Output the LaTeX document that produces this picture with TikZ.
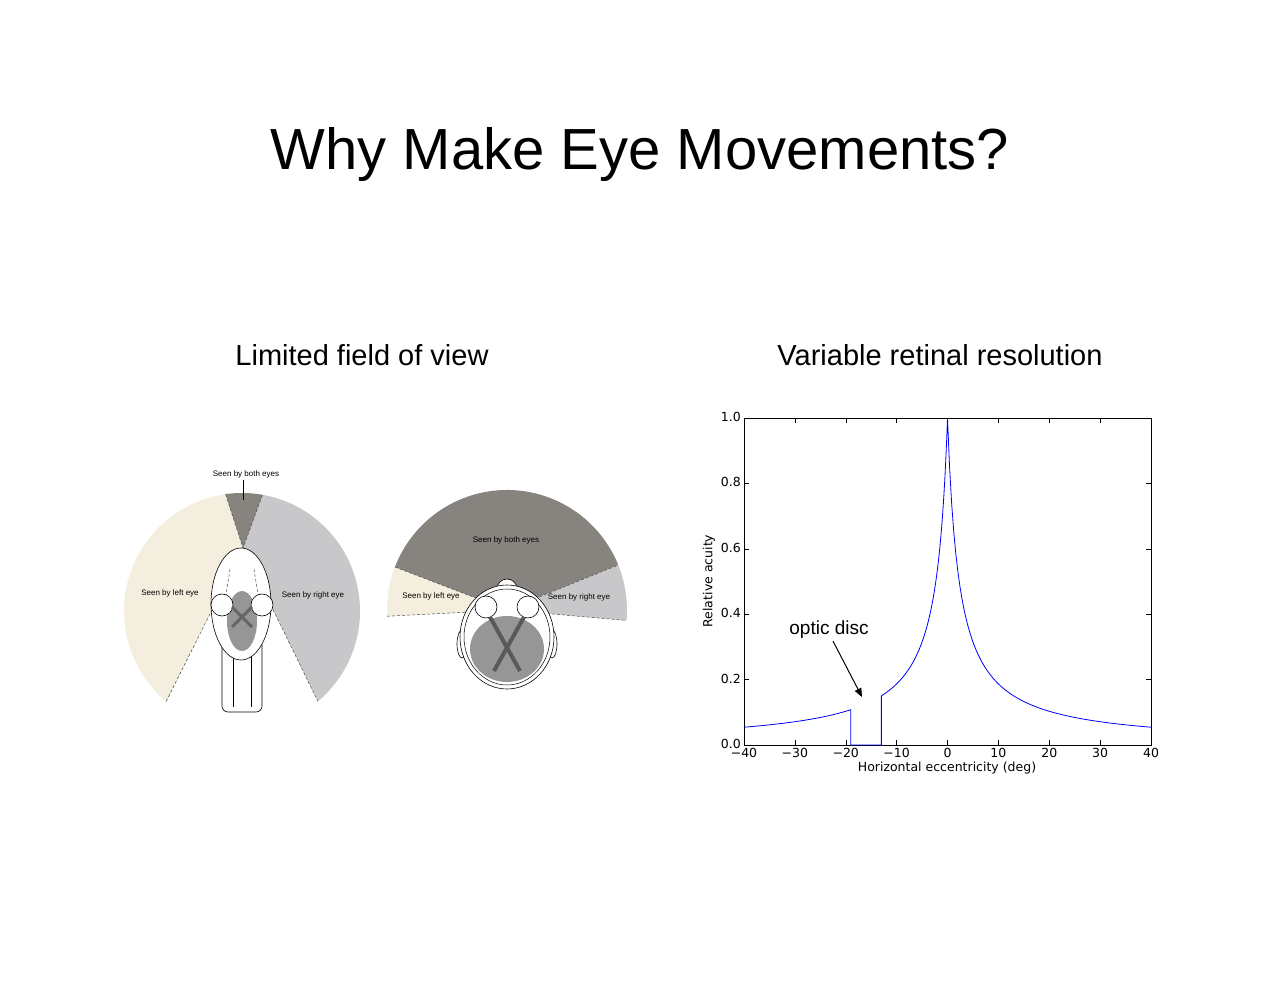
\documentclass[tikz,border=0pt]{standalone}
\usepackage{fontspec}
\setmainfont{Liberation Sans}
\newfontfamily\dejavu{DejaVu Sans}
\usetikzlibrary{arrows, calc}
\definecolor{leftfield}{RGB}{244,238,222}
\definecolor{rightfield}{RGB}{200,200,202}
\definecolor{bothfield}{RGB}{135,131,126}
\definecolor{brain}{RGB}{150,150,150}
\tikzstyle{every node} = [inner sep=0pt]
\tikzstyle{seen} = [font=\fontsize{8}{9}\selectfont]
\tikzstyle{tick} = [font=\dejavu\fontsize{12.5}{14}\selectfont]
\tikzstyle{border} = [densely dashed, black!70, line width=0.5pt]

\begin{document}
\begin{tikzpicture}[x=1pt, y=1pt]
        \useasboundingbox (0,0) rectangle (1280,989);

        \node (title) at (640,834) {\fontsize{58}{66}\selectfont Why Make Eye Movements?};
        \node (limited) at (362,634) {\fontsize{29}{33}\selectfont Limited field of view};
        \node (variable) at (940,634) {\fontsize{29}{33}\selectfont Variable retinal resolution};

        % lateral-eyed animal
        \coordinate (c1) at (242,378);
        \coordinate (a1) at (243,441);
        \fill[leftfield] (a1) -- ($(c1)+(230:118)$) arc[start angle=230, end angle=98, radius=118] -- cycle;
        \fill[rightfield] (a1) -- ($(c1)+(80:118)$) arc[start angle=80, end angle=-50, radius=118] -- cycle;
        \fill[bothfield] (a1) -- ($(c1)+(98:118)$) arc[start angle=98, end angle=80, radius=118] -- cycle;
        \draw[border] ($(c1)+(230:118)$) -- (a1) -- ($(c1)+(-50:118)$);
        \draw[border] ($(c1)+(98:118)$) -- (a1) -- ($(c1)+(80:118)$);
        \draw[fill=white, line width=0.6pt, rounded corners=6pt] (222,277) rectangle (262,350);
        \draw[line width=0.5pt] (233,282) -- (233,338) -- (251,338) -- (251,282);
        \draw[fill=white, line width=0.6pt] (241,385) ellipse (30 and 56);
        \draw[border] (230,420) -- (225,388);
        \draw[border] (254,420) -- (259,388);
        \fill[brain] (242,368) ellipse (15 and 30);
        \draw[fill=white, line width=0.6pt] (222,384) circle (11);
        \draw[fill=white, line width=0.6pt] (262,384) circle (11);
        \draw[black!60, line width=3pt] (232,382) -- (252,362);
        \draw[black!60, line width=3pt] (252,382) -- (232,362);
        \node[seen] (both1) at (246,515) {Seen by both eyes};
        \draw[line width=0.5pt] (243,509) -- (243,489);
        \node[seen] (left1) at (170,396) {Seen by left eye};
        \node[seen] (right1) at (313,394) {Seen by right eye};

        % frontal-eyed head
        \coordinate (c2) at (507,379);
        \fill[leftfield] (c2) -- ($(c2)+(183:120)$) arc[start angle=183, end angle=159, radius=120] -- cycle;
        \fill[bothfield] (c2) -- ($(c2)+(159:120)$) arc[start angle=159, end angle=22, radius=120] -- cycle;
        \fill[rightfield] (c2) -- ($(c2)+(22:120)$) arc[start angle=22, end angle=-5, radius=120] -- cycle;
        \draw[border] ($(c2)+(183:120)$) -- (c2) -- ($(c2)+(-5:120)$);
        \draw[border] ($(c2)+(159:120)$) -- (c2) -- ($(c2)+(22:120)$);
        \draw[fill=white, line width=0.6pt] (462,345) ellipse (5 and 14);
        \draw[fill=white, line width=0.6pt] (552,345) ellipse (5 and 14);
        \draw[fill=white, line width=0.6pt] (507,400) circle (10);
        \draw[fill=white, line width=0.6pt] (507,352) ellipse (47 and 52);
        \draw[line width=0.5pt] (507,352) ellipse (43 and 48);
        \fill[brain] (507,340) ellipse (37 and 33);
        \draw[fill=white, line width=0.6pt] (486,382) circle (11);
        \draw[fill=white, line width=0.6pt] (528,382) circle (11);
        \draw[black!65, line width=4pt] (490,372) -- (520,318);
        \draw[black!65, line width=4pt] (524,372) -- (494,318);
        \node[seen] (both2) at (506,449) {Seen by both eyes};
        \node[seen] (left2) at (431,393) {Seen by left eye};
        \node[seen] (right2) at (579,392) {Seen by right eye};

        % acuity plot
        \draw[line width=0.6pt] (744,244) rectangle (1151,571);
        \foreach \v/\t in {-40/−40,-30/−30,-20/−20,-10/−10,0/0,10/10,20/20,30/30,40/40} {
            \draw[line width=0.5pt] ({744+5.0875*(\v+40)},244) -- ++(0,5);
            \draw[line width=0.5pt] ({744+5.0875*(\v+40)},571) -- ++(0,-5);
            \node[tick] (xt\v) at ({744+5.0875*(\v+40)},236) {\t};
        }
        \foreach \v in {0.0,0.2,0.4,0.6,0.8,1.0} {
            \draw[line width=0.5pt] (744,{244+327*\v}) -- ++(5,0);
            \draw[line width=0.5pt] (1151,{244+327*\v}) -- ++(-5,0);
            \node[tick, anchor=east] (yt\v) at (741,{245+327*\v}) {\v};
        }
        \node[tick] (xlabel) at (947,221) {Horizontal eccentricity (deg)};
        \node[tick, rotate=90] (ylabel) at (709,408) {Relative acuity};
        \draw[blue, line width=0.8pt]
            plot[domain=-40:-19, samples=40] ({744+5.0875*(\x+40)},{244+327/(1+abs(\x)/2.3)})
            -- ({744+5.0875*21},244) -- ({744+5.0875*27},244)
            -- plot[domain=-13:0, samples=80] ({744+5.0875*(\x+40)},{244+327/(1+abs(\x)/2.3)})
            -- plot[domain=0:40, samples=100] ({744+5.0875*(\x+40)},{244+327/(1+abs(\x)/2.3)});
        \node (disc) at (829,359) {\fontsize{19}{22}\selectfont optic disc};
        \coordinate (gap) at (862,292);
        \draw[-triangle 45, line width=1pt] (disc.south) ++(4,-2) -- (gap);
    \end{tikzpicture}
\end{document}
